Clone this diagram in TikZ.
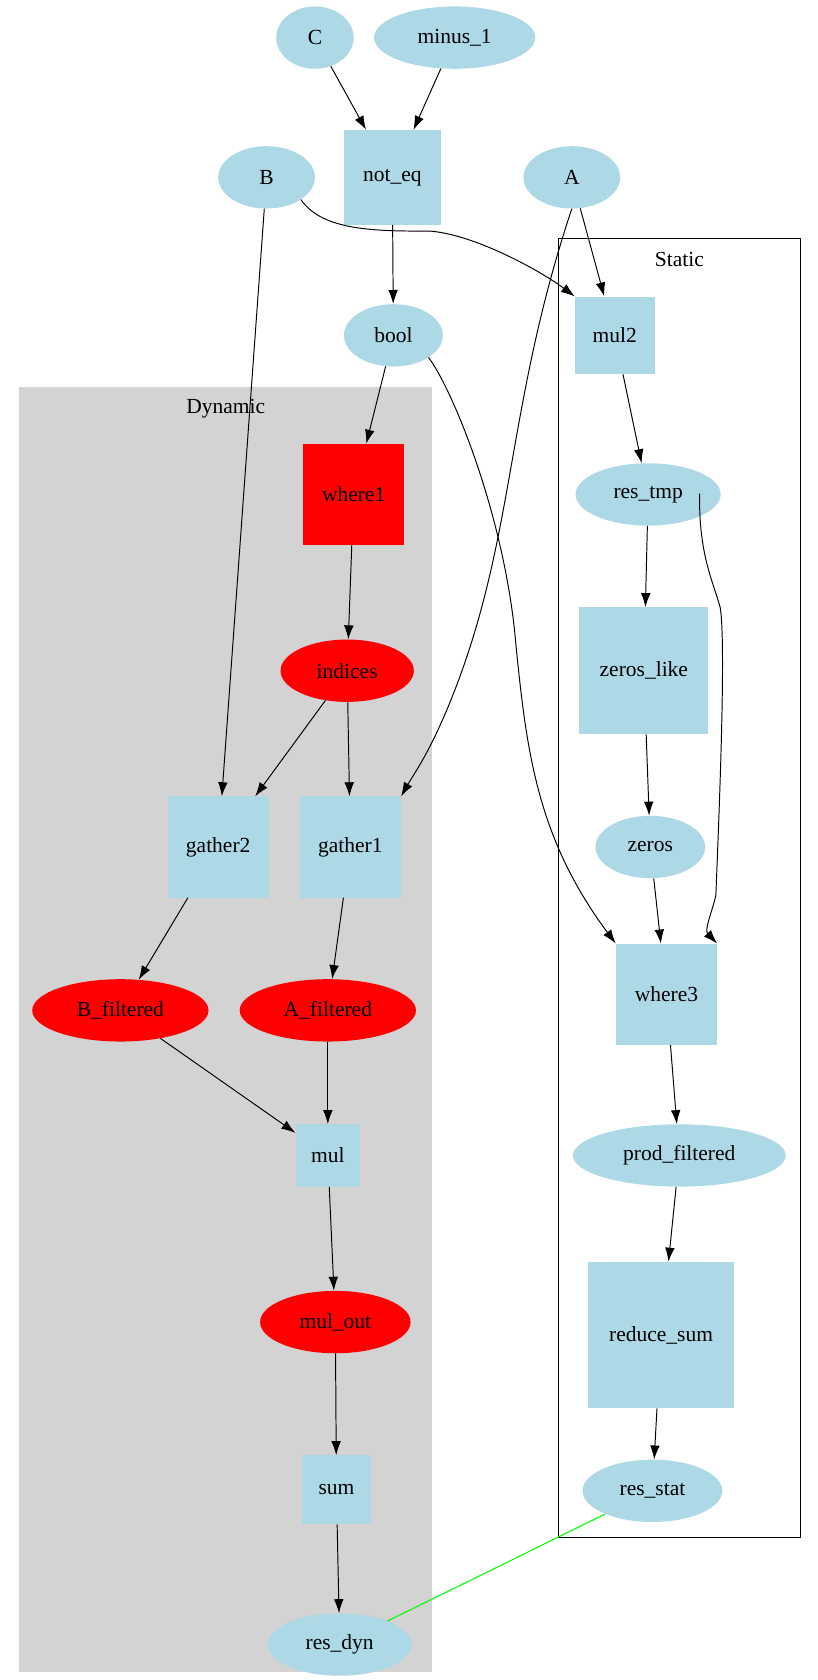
\documentclass[tikz,border=0pt]{standalone}
\usepackage{fontspec}
\setmainfont{Liberation Serif}
\usetikzlibrary{shapes.geometric,arrows.meta}
\definecolor{lb}{RGB}{173,216,230}
\definecolor{lg}{RGB}{211,211,211}
\begin{document}
\begin{tikzpicture}[x=1pt,y=-1pt,font=\fontsize{20}{22}\selectfont,
 el/.style={ellipse,fill=lb,inner sep=0pt},
 re/.style={rectangle,fill=lb,inner sep=0pt},
 red/.style={fill=red},
 e/.style={-{Latex[length=13pt,width=9pt]},line width=0.9pt}]
\useasboundingbox (0,0) rectangle (761,1563);
\fill[lg] (18,360) rectangle (402,1556);
\node at (210,380) {Dynamic};
\draw[line width=1pt] (520,222) rectangle (745,1430);
\node at (632,241) {Static};
\node[el,minimum width=72pt,minimum height=58pt] (C) at (293,35) {C};
\node[el,minimum width=150pt,minimum height=58pt] (m1) at (423,35) {minus\_1};
\node[re,minimum width=90pt,minimum height=88pt] (neq) at (365,165) {not\_eq};
\node[el,minimum width=90pt,minimum height=58pt] (B) at (248,165) {B};
\node[el,minimum width=90pt,minimum height=58pt] (A) at (532,165) {A};
\node[el,minimum width=92pt,minimum height=58pt] (bool) at (366,312) {bool};
\node[re,minimum width=74pt,minimum height=72pt] (mul2) at (572,312) {mul2};
\node[el,minimum width=135pt,minimum height=58pt] (rt) at (603,460) {res\_tmp};
\node[re,minimum width=120pt,minimum height=118pt] (zl) at (599,624) {zeros\_like};
\node[el,minimum width=102pt,minimum height=58pt] (z) at (605,788) {zeros};
\node[re,minimum width=94pt,minimum height=94pt] (w3) at (620,925) {where3};
\node[el,minimum width=198pt,minimum height=58pt] (pf) at (632,1075) {prod\_filtered};
\node[re,minimum width=136pt,minimum height=136pt] (rs) at (615,1242) {reduce\_sum};
\node[el,minimum width=130pt,minimum height=58pt] (rst) at (607,1387) {res\_stat};
\node[re,red,minimum width=94pt,minimum height=94pt] (w1) at (329,460) {where1};
\node[el,red,minimum width=124pt,minimum height=58pt] (ind) at (323,624) {indices};
\node[re,minimum width=94pt,minimum height=94pt] (g2) at (203,788) {gather2};
\node[re,minimum width=94pt,minimum height=94pt] (g1) at (326,788) {gather1};
\node[el,red,minimum width=164pt,minimum height=58pt] (bf) at (112,940) {B\_filtered};
\node[el,red,minimum width=164pt,minimum height=58pt] (af) at (305,940) {A\_filtered};
\node[re,minimum width=60pt,minimum height=58pt] (mul) at (305,1075) {mul};
\node[el,red,minimum width=140pt,minimum height=58pt] (mo) at (312,1230) {mul\_out};
\node[re,minimum width=64pt,minimum height=64pt] (sum) at (313,1386) {sum};
\node[el,minimum width=134pt,minimum height=58pt] (rd) at (316,1530) {res\_dyn};
\draw[e] (C) -- (neq);
\draw[e] (m1) -- (neq);
\draw[e] (neq) -- (bool);
\draw[e] (B) -- (g2);
\draw[e] (B.south east) .. controls (300,215) and (350,215) .. (400,215) .. controls (440,218) and (500,250) .. (mul2.north west);
\draw[e] (A) -- (mul2);
\draw[e] (A.south) .. controls (470,380) and (480,500) .. (420,650) .. controls (400,700) and (385,720) .. (g1.north east);
\draw[e] (bool) -- (w1);
\draw[e] (bool.south east) .. controls (420,360) and (470,480) .. (480,600) .. controls (490,700) and (500,780) .. (w3.north west);
\draw[e] (rt) -- (zl);
\draw[e] (rt.north east) ++(0,20) .. controls (650,515) and (663,540) .. (670,565) .. controls (676,600) and (668,780) .. (666,833) .. controls (662,850) and (655,865) .. (w3.north east);
\draw[e] (mul2) -- (rt);
\draw[e] (zl) -- (z);
\draw[e] (z) -- (w3);
\draw[e] (w3) -- (pf);
\draw[e] (pf) -- (rs);
\draw[e] (rs) -- (rst);
\draw[e] (w1) -- (ind);
\draw[e] (ind) -- (g2);
\draw[e] (ind) -- (g1);
\draw[e] (g2) -- (bf);
\draw[e] (g1) -- (af);
\draw[e] (bf) -- (mul);
\draw[e] (af) -- (mul);
\draw[e] (mul) -- (mo);
\draw[e] (mo) -- (sum);
\draw[e] (sum) -- (rd);
\draw[green,line width=1pt] (rst) -- (rd);
\end{tikzpicture}
\end{document}
